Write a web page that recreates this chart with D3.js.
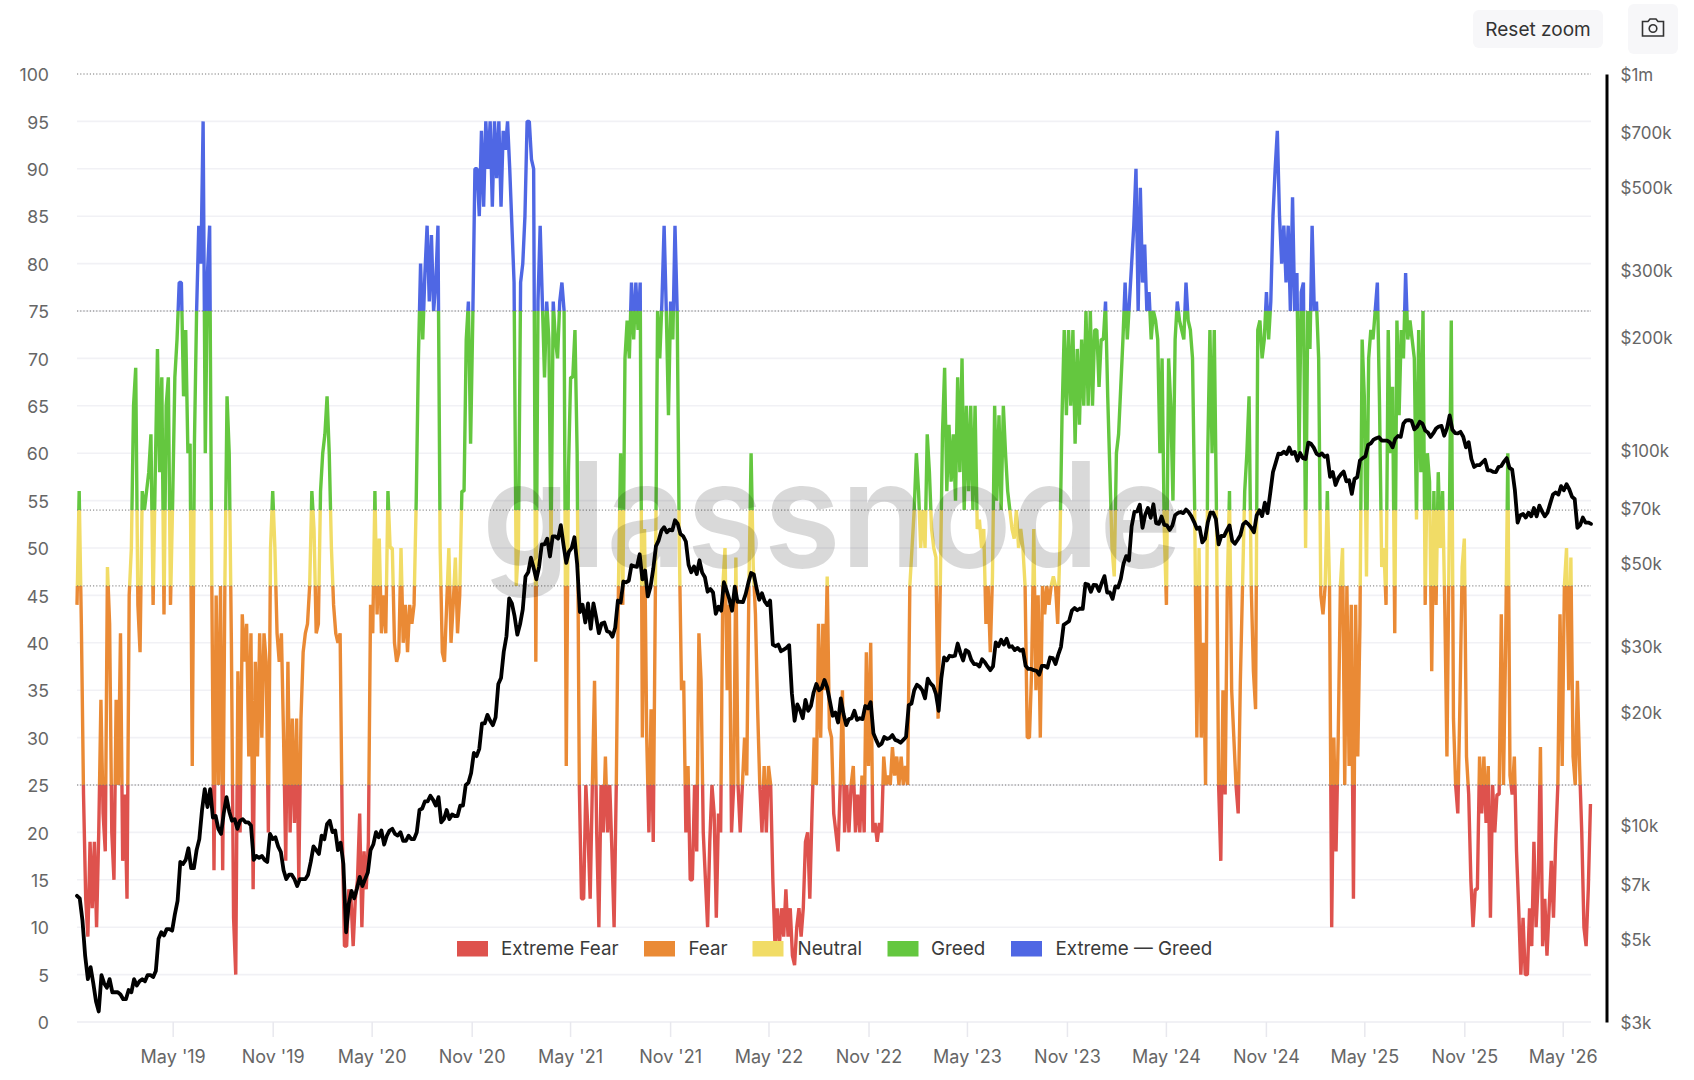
<!DOCTYPE html>
<html>
<head>
<meta charset="utf-8">
<title>Bitcoin Fear and Greed Index</title>
<script src="https://cdn.jsdelivr.net/npm/d3@7/dist/d3.min.js"></script>
<style>
  html, body { margin: 0; padding: 0; background: #fff; }
  svg { display: block; font-family: Inter, "Noto Sans", sans-serif; }
</style>
</head>
<body>
<svg id="chart" width="1694" height="1080"></svg>
<script>
// Fear & Greed index, one reading every four days from the start date.
const indexStart = Date.UTC(2018, 10, 6);
const indexStepDays = 4;
const indexLate2018To2019 = [44,56,42,24,13,9,19,12,19,10,20,34,22,18,48,42,20,15,34,25,41,17,24,13,45,50,65,69,44,39,56,54,56,58,62,44,58,71,58,68,43,65,68,44,55,68,72,78,78,66,73,60,61,27,61,75,84,80,95,60,79,84,46,16,45,25,46,16,46,66,60,40,11,5,37,20,43,38,42,28,41,14,38,28,41,30,41,38,20,50,56,50,41,38,41,30,17,38,20,32,21,32,15,32,39,41,42,46,56,52,41,42,56,60,62];
const indexLate2019To2021 = [66,60,50,44,41,40,41,20,8,8,14,13,8,13,15,22,10,18,14,19,44,41,56,43,51,41,45,41,56,50,50,40,38,39,50,40,44,39,44,42,44,55,70,80,72,79,84,76,83,75,78,84,50,39,38,44,50,40,44,49,41,45,56,56,72,76,61,74,90,90,85,94,86,95,90,95,86,95,89,95,86,94,92,95,90,84,78,46,50,78,80,85,95,95,91,90,38,76,84,76,68,76,72,50,76,72,70,76,78,75,27,58,68,68,73,60,25,13];
const indexMid2021To2022 = [13,25,20,13,25,36,20,10,25,20,28,20,25,18,10,25,46,60,44,70,74,70,78,72,78,73,78,30,52,30,20,33,19,46,75,70,76,84,75,64,76,72,84,75,50,35,36,20,27,15,15,25,18,41,36,20,15,10,19,25,22,11,22,20,46,50,35,44,20,25,49,25,20,25,30,26,46,60,48,43,33,25,20,27,20,27,25,15,8,12,8,12,9,14,9,12,7,6,10,12,9,12,19,20,13,22,30,25,42,30,42,35,47,31,30,22,20,18];
const indexLate2022To2023 = [25,35,20,25,20,25,27,20,24,20,26,20,39,27,40,20,21,19,21,20,28,25,26,25,29,26,28,25,28,25,27,25,46,50,54,60,56,50,54,50,62,58,52,50,49,32,46,62,69,56,63,57,62,55,68,58,70,54,65,56,65,54,65,52,53,50,52,42,46,39,47,65,55,64,54,65,60,56,54,52,51,54,50,52,50,46,30,30,37,52,35,45,30,46,43,46,44,46,47,46,42,50,64,73,64,73,65,73,61,71,63,72,65,75,65,75,65,73];
const indexLate2023To2025 = [73,67,72,72,76,66,58,50,47,60,62,67,72,78,72,76,80,84,90,75,88,78,82,75,77,72,75,74,72,60,70,52,44,70,65,55,72,76,74,73,72,78,74,73,70,54,30,50,30,40,25,60,73,60,73,54,25,17,35,24,46,56,35,30,25,22,36,46,56,60,66,46,37,33,73,74,70,72,77,72,76,85,90,94,85,80,84,78,84,75,87,75,79,60,77,78,50,75,71,84,75,76,70,45,43,46,56,46,10,30,18,30,46,50,25,46,27,44];
const indexEarly2025To2026 = [13,44,28,42,72,66,47,70,73,72,75,78,65,48,50,44,73,60,67,41,74,64,73,70,79,72,74,72,70,53,73,58,75,44,60,57,37,56,44,58,50,56,44,28,50,74,32,25,22,34,48,51,28,24,15,10,14,14,28,22,28,21,27,11,25,20,24,24,43,25,40,60,26,24,28,18,12,5,11,5,5,12,8,19,10,15,29,8,13,7,12,17,11,19,25,43,27,46,50,35,49,28,25,36,27,20,10,8,14,23];
const indexSeries = [].concat(indexLate2018To2019, indexLate2019To2021, indexMid2021To2022, indexLate2022To2023, indexLate2023To2025, indexEarly2025To2026);

// Bitcoin price in thousands of dollars, one close every five days.
const priceStepDays = 5;
const price2018 = [6.5,6.4,5.6,4.5,3.9,4.2,3.8,3.4,3.2,4.0,3.8,3.7];
const price2019 = [3.9,3.6,3.6,3.6,3.55,3.45,3.45,3.65,3.6,3.9,3.75,3.85,3.9,3.85,4.0,4.0,3.95,4.1,5.0,5.2,5.1,5.3,5.3,5.25,5.8,6.3,8.0,7.9,8.1,8.7,7.7,7.7,8.6,9.2,11.0,12.5,11.2,12.5,10.5,10.6,9.8,9.5,10.8,11.9,10.9,10.3,10.4,9.8,10.3,10.4,10.2,10.2,10.0,8.1,8.3,8.2,8.3,8.1,8.0,9.5,9.2,9.3,8.8,8.5,7.6,7.2,7.4,7.4,7.2,6.9,7.2,7.2,7.2];
const price2020 = [7.4,8.0,8.8,8.6,8.4,9.4,9.2,10.1,10.3,9.6,9.7,8.6,9.0,7.9,5.2,6.2,6.7,6.4,6.8,7.3,6.9,7.2,7.5,8.6,8.9,9.6,9.3,9.7,8.9,9.4,9.7,9.8,9.5,9.4,9.6,9.1,9.1,9.4,9.2,9.2,9.6,11.0,11.1,11.6,11.6,12.0,11.7,11.3,11.9,10.2,10.4,11.0,10.4,10.7,10.6,10.6,11.3,11.3,12.8,13.0,13.8,15.6,15.3,16.0,18.7,18.7,19.7,19.0,18.5,19.4,23.8,24.7,29];
const price2021 = [31.9,40.2,39,36,32.2,34.3,37.6,46,47.2,51.6,48.5,45.2,48.8,56,56,58,52,58.8,58.8,58,63,55.7,50,53.6,54.8,58.5,49.7,37,38.7,34.7,39,33.4,39,35.8,32.5,34.5,34.7,32.9,32.7,31.8,33.6,39.7,39.2,44.6,44.4,44.8,49.3,49,48.8,52.7,45.2,47.7,40.7,43.2,48.2,55.4,57.4,60.9,62.2,60.3,61.3,61,64.9,63.6,59.7,58.9,57,49.4,47.2,48.9,46.7,50.8,47.1];
const price2022 = [45.8,41.9,42.6,41.7,36.6,38.2,37.3,44.4,42.2,40,37.3,43.2,39.4,39.4,39.3,41.3,44.3,47,46.6,42.8,39.9,41.5,39.5,38.6,39.7,30.3,30,30.3,29.1,29.4,29.7,30.2,22.5,19,21,20.3,19.3,21.6,20.2,20.8,22.6,23.8,22.9,23.2,24.4,23.3,21.4,19.6,20,18.8,21.8,19.8,18.5,19.2,19.3,20.2,19.1,19.3,19.2,20.8,20.5,21.3,17.6,16.9,16.3,16.5,17.2,17.0,17.1,17.4,16.9,16.8,16.6];
const price2023 = [16.9,17.2,20.9,21.1,22.9,23.7,23.4,22.9,21.8,24.6,23.9,23.5,22.4,20.2,24.7,28,27.5,28.3,28.2,28.3,30.5,28.8,27.5,29.3,29,27.6,26.9,26.9,26.5,27.7,27.2,26.5,25.9,26.5,30.7,30,31.2,30.3,31.4,29.9,30,29.3,29.7,29.2,29.4,26.6,26.1,26.1,25.9,25.8,25.2,26.6,26.6,26.3,28,27.9,26.9,28.5,29.9,34.2,34.6,35,37.3,37.9,37.4,37.8,37.7,44,43.8,41.9,43.7,43.6,42.1];
const price2024 = [44.2,46.1,41.7,41.7,40.1,43.3,43,45.3,49.7,52.1,50.7,62.5,68.3,68.5,71.4,62,67.2,70,65.9,71.6,63.8,63.5,66.4,63.1,62.9,61.2,62.9,67,67.9,68.3,67.8,69.3,68.2,66.5,64.2,61.6,62.1,56.7,57.9,64,68,68,65.4,56,59,58.9,61,62.9,57.3,56.2,57.6,59.2,63.3,64.3,63.3,62,60.3,66.9,69,66.6,72.3,67.8,76.7,87.3,92.3,97.7,97.4,98.8,97.4,101.4,97.5,98.7,93.5];
const price2025 = [98,95,94.5,104.5,103.7,101.3,97.7,96.6,97.8,95.8,96.5,84.7,87.2,80.6,84,86,87.5,82.4,83,76.3,83.7,84.5,93.7,95,96,103,104,106.4,107.3,108,105.8,105.7,105.7,104.6,101.5,107,108.8,108.2,117.5,119.8,119.9,119.4,113.3,115,118.7,117.4,112.5,111.2,108.2,110.7,113.9,115.3,115.7,109,114,123.5,113,110.8,110.6,111.6,108.3,101.5,104.7,94.5,90,91,91,92.5,94,88.2,88.1,87.3,87.2];
const price2026 = [90,90.5,93,95,89.5,88.5,78,64,67,67.5,66,68,66.5,70,66.5,71,68.5,66.5,68,72,76,77,76,80,78,81,78.5,75,74,62,63,66,64,64,63.5];
const priceSeries = [].concat(price2018, price2019, price2020, price2021, price2022, price2023, price2024, price2025, price2026);

// Axis ticks and sentiment bands.
const indexTicks = d3.range(0, 101, 5);
const priceTicks = [3000,5000,7000,10000,20000,30000,50000,70000,100000,200000,300000,500000,700000,1000000];
const priceLabels = ["$3k","$5k","$7k","$10k","$20k","$30k","$50k","$70k","$100k","$200k","$300k","$500k","$700k","$1m"];
const monthTicks = [[2019,4],[2019,10],[2020,4],[2020,10],[2021,4],[2021,10],[2022,4],[2022,10],[2023,4],[2023,10],[2024,4],[2024,10],[2025,4],[2025,10],[2026,4]];
const thresholdLines = [100, 75, 54, 46, 25];
const bandNames = ["Extreme Fear","Fear","Neutral","Greed","Extreme — Greed"];
const bandLimits = [[0,25],[25,46],[46,54],[54,75],[75,100]];
const bandColors = ["#de524d","#ea8a35","#f1dc66","#64c73f","#4f67e4"];
const legendSwatchX = [457,644,752.5,887.5,1011];
const legendTextX = [501,688.5,797.5,931,1055.5];

const svg = d3.select("#chart");
const plot = {left: 77, right: 1591, top: 74, bottom: 1022};

const x = d3.scaleUtc()
  .domain([indexStart, Date.UTC(2026, 5, 22)])
  .range([plot.left, plot.right]);
const y = d3.scaleLinear().domain([0, 100]).range([plot.bottom, plot.top]);
const yPrice = d3.scaleLog().domain([3, 1000]).range([plot.bottom, plot.top]);

const dayMs = 86400000;

// Light horizontal grid and the tick stubs under the plot.
const axisLeft = d3.axisLeft(y).tickValues(indexTicks).tickSize(0).tickPadding(28);
const gLeft = svg.append("g").attr("transform", `translate(${plot.left},0)`).call(axisLeft);
gLeft.select(".domain").remove();
gLeft.selectAll("text").attr("font-size", 17.7).attr("fill", "#666").attr("font-family", "Inter").attr("dy", "0.38em");

svg.append("g").selectAll("line").data(indexTicks.filter(t => !thresholdLines.includes(t) || t === 25 || t === 75)).join("line")
  .attr("x1", plot.left).attr("x2", plot.right)
  .attr("y1", d => y(d)).attr("y2", d => y(d))
  .attr("stroke", "#f1f1f5").attr("stroke-width", d => d === 0 ? 2 : 1.6);

const axisBottom = d3.axisBottom(x)
  .tickValues(monthTicks.map(m => Date.UTC(m[0], m[1], 1)))
  .tickFormat(d3.utcFormat("%b '%y"))
  .tickSize(15).tickPadding(13);
const gBottom = svg.append("g").attr("transform", `translate(0,${plot.bottom})`).call(axisBottom);
gBottom.select(".domain").remove();
gBottom.selectAll("line").attr("stroke", "#e8e8ee").attr("stroke-width", 1.5);
gBottom.selectAll("text").attr("font-size", 18).attr("fill", "#666").attr("font-family", "Inter");

// One clipped copy of the index line per sentiment band.
const defs = svg.append("defs");
const indexLine = d3.line()
  .x((d, i) => x(indexStart + i * indexStepDays * dayMs))
  .y(d => y(d));
bandLimits.forEach((b, k) => {
  defs.append("clipPath").attr("id", "band" + k).append("rect")
    .attr("x", plot.left - 5).attr("width", plot.right - plot.left + 10)
    .attr("y", y(b[1])).attr("height", y(b[0]) - y(b[1]));
  svg.append("path").datum(indexSeries)
    .attr("d", indexLine)
    .attr("clip-path", `url(#band${k})`)
    .attr("fill", "none")
    .attr("stroke", bandColors[k])
    .attr("stroke-width", 3.4)
    .attr("stroke-linejoin", "bevel");
});

// Dotted band limits.
svg.append("g").selectAll("line").data(thresholdLines).join("line")
  .attr("x1", plot.left).attr("x2", plot.right)
  .attr("y1", d => y(d)).attr("y2", d => y(d))
  .attr("stroke", "#777").attr("stroke-width", 1).attr("stroke-dasharray", "1.2 2");

// Wordmark across the middle of the plot.
svg.append("text").text("glassnode")
  .attr("x", 482).attr("y", 567)
  .attr("font-size", 146).attr("font-weight", 600).attr("font-family", "Inter")
  .attr("textLength", 700).attr("lengthAdjust", "spacingAndGlyphs")
  .attr("fill", "rgba(0,0,0,0.15)");

// Bitcoin price on the logarithmic axis.
const priceLine = d3.line()
  .x((d, i) => x(indexStart + i * priceStepDays * dayMs))
  .y(d => yPrice(d));
svg.append("path").datum(priceSeries)
  .attr("d", priceLine)
  .attr("fill", "none").attr("stroke", "#000").attr("stroke-width", 3.8)
  .attr("stroke-linejoin", "round").attr("stroke-linecap", "round");

// Right axis with its heavy black rule.
const axisRight = d3.axisRight(d3.scaleLog().domain([3000, 1000000]).range([plot.bottom, plot.top]))
  .tickValues(priceTicks)
  .tickFormat((d, i) => priceLabels[i])
  .tickSize(0).tickPadding(14);
const gRight = svg.append("g").attr("transform", "translate(1606.5,0)").call(axisRight);
gRight.select(".domain").attr("stroke", "#000").attr("stroke-width", 3);
gRight.selectAll("text").attr("font-size", 17).attr("fill", "#666").attr("font-family", "Inter").attr("dy", "0.38em");

// Legend.
const legend = svg.append("g");
legend.selectAll("rect").data(bandNames).join("rect")
  .attr("x", (d, i) => legendSwatchX[i]).attr("y", 941)
  .attr("width", 31).attr("height", 15.5)
  .attr("fill", (d, i) => bandColors[i]);
legend.selectAll("text").data(bandNames).join("text")
  .attr("x", (d, i) => legendTextX[i]).attr("y", 955)
  .attr("font-size", 18.8).attr("fill", "#3a3a3a").attr("font-family", "Inter")
  .text(d => d);

// Toolbar buttons above the plot.
svg.append("rect").attr("x", 1473).attr("y", 10).attr("width", 130).attr("height", 38).attr("rx", 6).attr("fill", "#f7f7f9");
svg.append("text").text("Reset zoom").attr("x", 1538).attr("y", 36).attr("text-anchor", "middle")
  .attr("font-size", 19).attr("fill", "#333").attr("font-family", "Inter");
svg.append("rect").attr("x", 1628).attr("y", 4).attr("width", 50).attr("height", 50).attr("rx", 6).attr("fill", "#f7f7f9");
const cam = svg.append("g").attr("transform", "translate(1653,28)").attr("fill", "none").attr("stroke", "#333").attr("stroke-width", 1.6);
cam.append("path").attr("d", "M-10.5,-6.5 H-5 L-3,-9 H3 L5,-6.5 H10.5 V8 H-10.5 Z");
cam.append("circle").attr("cx", 0).attr("cy", 0.5).attr("r", 3.8);
</script>
</body>
</html>
